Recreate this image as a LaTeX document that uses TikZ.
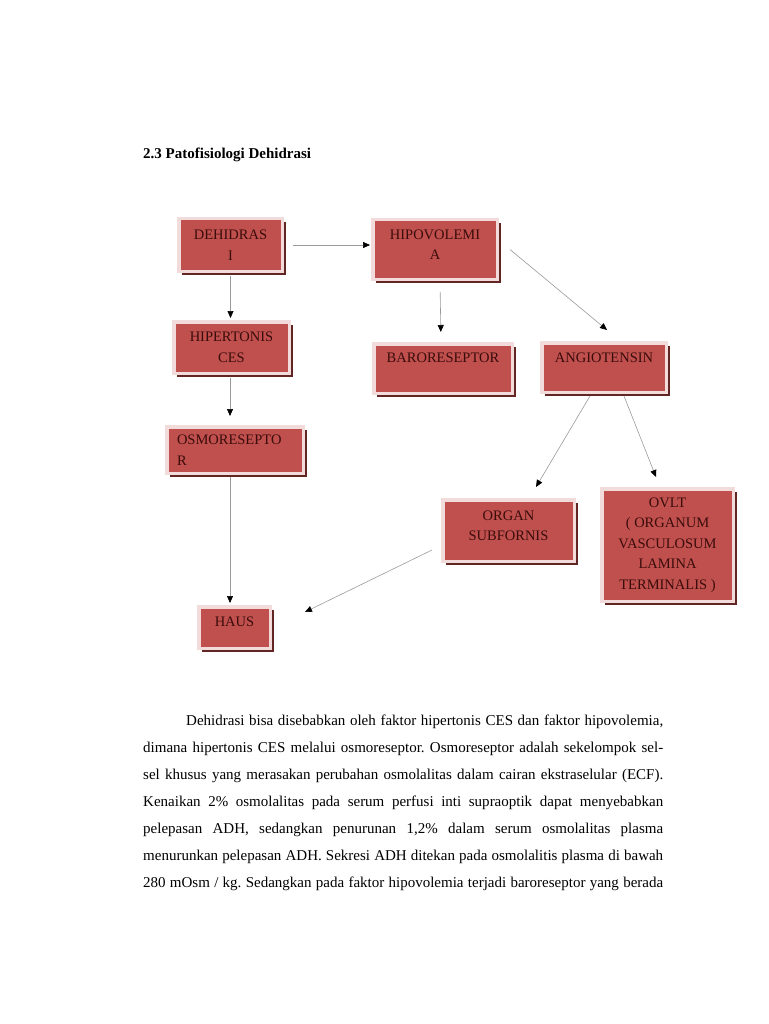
\documentclass[tikz,border=0pt]{standalone}
\usepackage{fontspec}
\setmainfont{Liberation Serif}
\usetikzlibrary{arrows.meta,shadows}
\definecolor{boxred}{HTML}{C0504D}
\definecolor{boxrim}{HTML}{F2DCDB}
\definecolor{boxshade}{HTML}{632523}
\definecolor{boxtext}{HTML}{3A0C0B}
\definecolor{linegray}{HTML}{9A9A9A}

\begin{document}
\begin{tikzpicture}[x=1pt,y=-1pt]
\tikzstyle{every node}+=[inner sep=0pt]
\tikzstyle{redbox}=[rectangle, fill=boxred, draw=boxrim, line width=3.5pt,
  drop shadow={shadow xshift=3.5pt, shadow yshift=-3.5pt, fill=boxshade, opacity=1},
  text=boxtext, font=\fontsize{14.5}{20.5}\selectfont, align=center]
\tikzstyle{conn}=[draw=linegray, line width=0.6pt, -{Triangle[length=7pt,width=6pt,color=black]}]
\useasboundingbox (0,0) rectangle (768,1024);
\fill [white] (0,0) rectangle (768,1024);
\node [anchor=base west, font=\bfseries\fontsize{15}{18}\selectfont] (judul) at (143,159) {2.3 Patofisiologi Dehidrasi};
% kotak
\node [redbox, minimum width=103.5pt, minimum height=52.5pt] (dehidrasi) at (230.5,245) {DEHIDRAS\\I};
\node [redbox, minimum width=124.5pt, minimum height=59.5pt] (hipovolemia) at (435,249.5) {HIPOVOLEMI\\A\\[-10.5pt]};
\node [redbox, minimum width=115.5pt, minimum height=51.5pt] (hipertonis) at (231.5,347.5) {HIPERTONIS\\CES};
\node [redbox, minimum width=138.5pt, minimum height=49.5pt, text depth=21pt] (baroreseptor) at (443,368.5) {BARORESEPTOR};
\node [redbox, minimum width=124.5pt, minimum height=49.5pt, text depth=19pt] (angiotensin) at (604,367.5) {ANGIOTENSIN};
\node [redbox, minimum height=46.5pt, text width=116pt, inner xsep=10.25pt, align=left] (osmoreseptor) at (235,450) {OSMORESEPTO\\R};
\node [redbox, minimum width=131.5pt, minimum height=61.5pt] (organ) at (508.5,530.5) {ORGAN\\SUBFORNIS\\[-10.5pt]};
\node [redbox, minimum width=131.5pt, minimum height=112.5pt] (ovlt) at (667.5,545) {OVLT\\( ORGANUM\\VASCULOSUM\\LAMINA\\TERMINALIS )};
\node [redbox, minimum width=71.5pt, minimum height=41.5pt, text depth=11pt] (haus) at (234.5,627.5) {HAUS};
% panah
\draw [conn, shorten <=9pt, shorten >=1pt] (dehidrasi.east) -- (dehidrasi.east -| hipovolemia.west);
\draw [conn, shorten <=3pt, shorten >=2pt] (dehidrasi.south) -- (dehidrasi.south |- hipertonis.north);
\draw [conn, shorten <=11pt, shorten >=10pt] ([xshift=5pt]hipovolemia.south) -- ([xshift=-2pt]baroreseptor.north);
\draw [conn] ([xshift=11pt]hipovolemia.east) -- ([xshift=3pt,yshift=11pt]angiotensin.north);
\draw [conn, shorten <=3pt, shorten >=9pt] ([xshift=-1.5pt]hipertonis.south) -- ([xshift=-1.5pt]hipertonis.south |- osmoreseptor.north);
\draw [conn, shorten <=2pt, shorten >=2pt] ([xshift=-5pt]osmoreseptor.south) -- ([xshift=-5pt]osmoreseptor.south |- haus.north);
\draw [conn] ([xshift=-14pt,yshift=-2pt]angiotensin.south) -- ([xshift=27.5pt,yshift=11pt]organ.north);
\draw [conn] ([xshift=20pt,yshift=-2pt]angiotensin.south) -- ([xshift=-11.5pt,yshift=10pt]ovlt.north);
\draw [conn] ([xshift=-9pt,yshift=-19.5pt]organ.west) -- ([xshift=33pt,yshift=15.5pt]haus.east);
% paragraf
\node [anchor=base west, text width=520pt, align=justify, font=\fontsize{15}{27}\selectfont] (paragraf) at (143,725.5) {\frenchspacing\tolerance=10000\hyphenpenalty=10000\hspace*{43pt}Dehidrasi bisa disebabkan oleh faktor hipertonis CES dan faktor hipovolemia,\linebreak
dimana hipertonis CES melalui osmoreseptor. Osmoreseptor adalah sekelompok sel-\linebreak
sel khusus yang merasakan perubahan osmolalitas dalam cairan ekstraselular (ECF).\linebreak
Kenaikan 2\% osmolalitas pada serum perfusi inti supraoptik dapat menyebabkan\linebreak
pelepasan ADH, sedangkan penurunan 1,2\% dalam serum osmolalitas plasma\linebreak
menurunkan pelepasan ADH. Sekresi ADH ditekan pada osmolalitis plasma di bawah\linebreak
\makebox[520pt][s]{280 mOsm / kg. Sedangkan pada faktor hipovolemia terjadi baroreseptor yang berada}};
\end{tikzpicture}
\end{document}
